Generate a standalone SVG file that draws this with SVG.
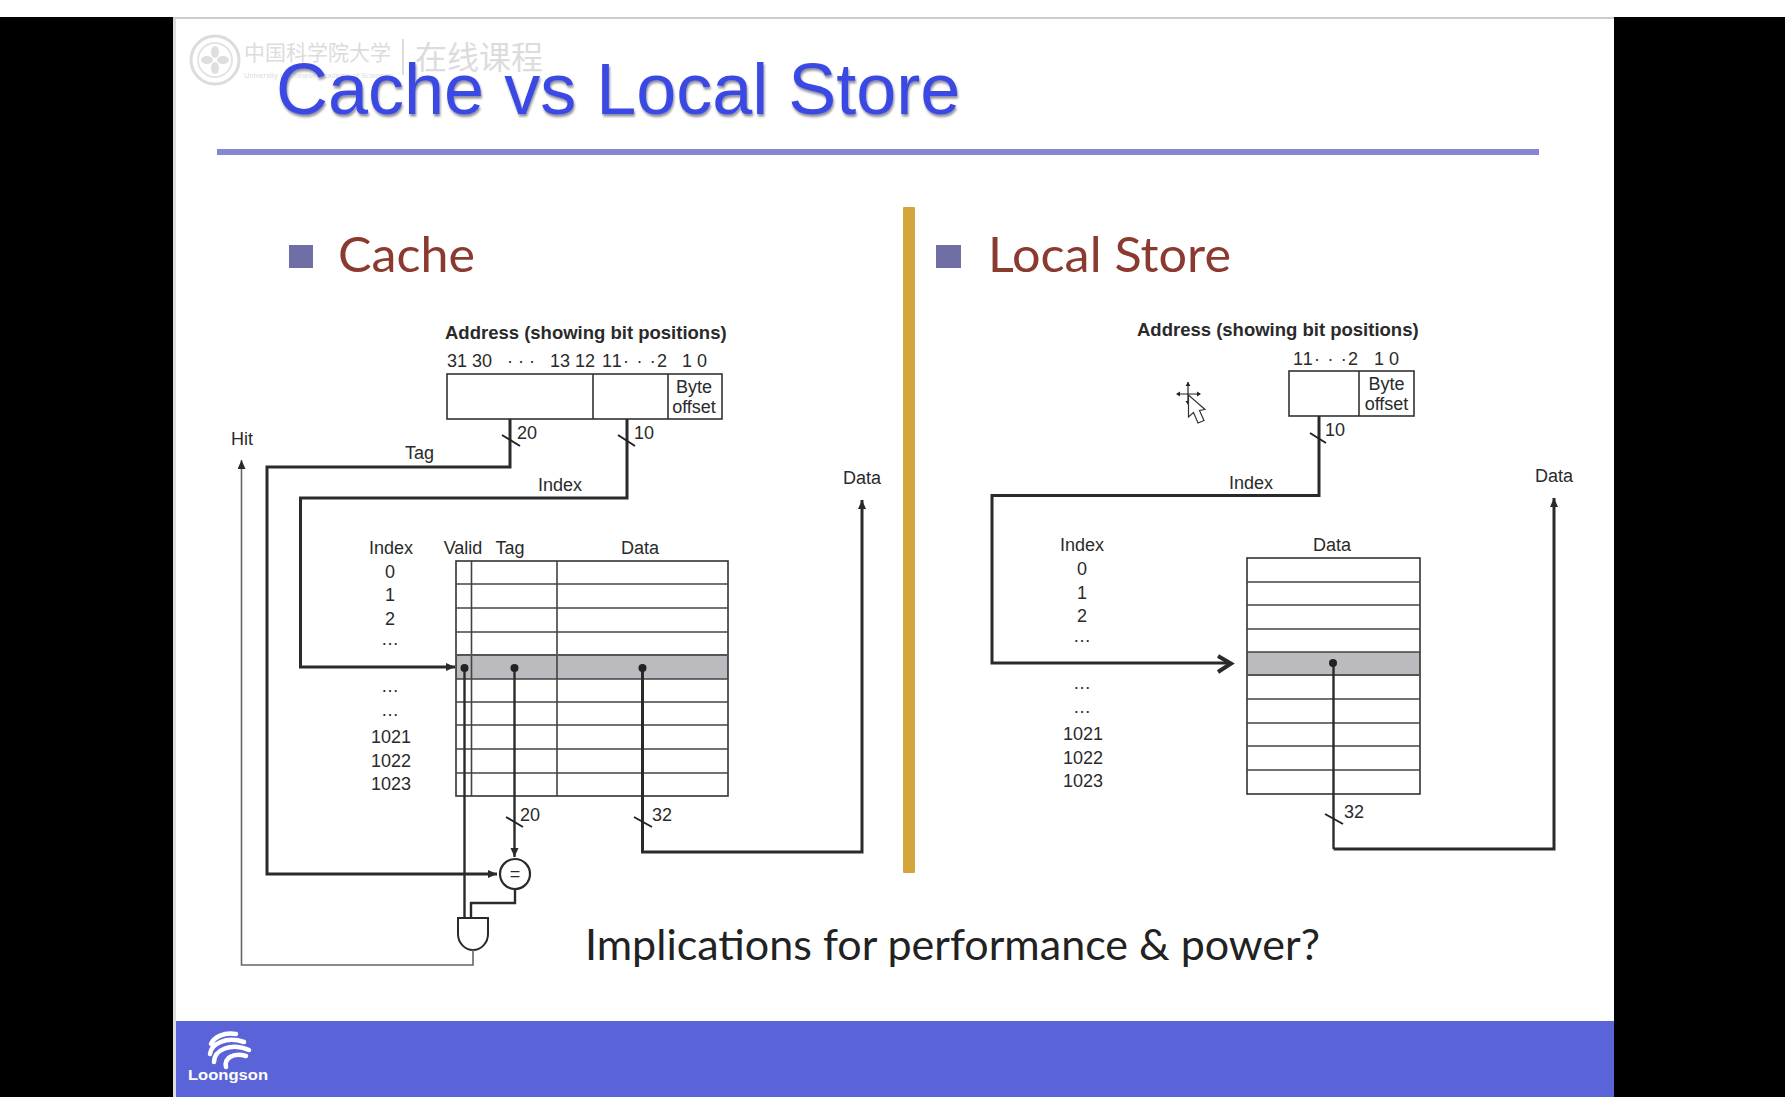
<svg xmlns="http://www.w3.org/2000/svg" width="1785" height="1116" viewBox="0 0 1785 1116">
<style>
text{font-family:"Liberation Sans",Arial,sans-serif;fill:#2a2a2a}
.t{font-size:18px}
.m{text-anchor:middle}
.b{font-size:18.5px;font-weight:bold}
.h{font-family:"Lato","Open Sans",sans-serif;fill:#8a3a2f;font-size:48px}
.g{fill:none;stroke:#333;stroke-width:1.6}
.r{stroke:#444;stroke-width:1.6}
.rt{stroke:#555;stroke-width:2}
.w{fill:none;stroke:#2a2a2a;stroke-width:3}
.w2{fill:none;stroke:#2a2a2a;stroke-width:2.4}
.thin{fill:none;stroke:#666;stroke-width:1.6}
.tick{stroke:#222;stroke-width:2}
.wm{font-family:"Noto Sans CJK SC",sans-serif;fill:#dcdcdc}
</style>
<defs>
<marker id="ah" markerUnits="userSpaceOnUse" markerWidth="10" markerHeight="10" refX="9" refY="4" orient="auto"><path d="M0 0L9 4L0 8Z" fill="#2a2a2a"/></marker>
<filter id="sh" x="-5%" y="-10%" width="110%" height="125%"><feDropShadow dx="1" dy="2.5" stdDeviation="1" flood-color="#8f8f9f"/></filter>
</defs>
<rect width="1785" height="1116" fill="#fff"/>
<g id="frame">
<rect x="0" y="17" width="173" height="1080" fill="#000"/>
<rect x="1614" y="17" width="171" height="1080" fill="#000"/>
<rect x="173" y="17" width="3" height="1080" fill="#ddd"/>
<rect x="173" y="17" width="1441" height="2" fill="#ccc"/>
<rect x="176" y="1021" width="1438" height="76" fill="#5b63d9"/>
</g>
<g id="logo">
<g fill="none" stroke="#fff" stroke-width="4.500" stroke-linecap="round">
<path d="M211 1044C214 1037 224 1032 236 1034"/>
<path d="M210 1054C211 1044 226 1036 244 1042"/>
<path d="M214 1062C214 1050 231 1042 249 1050"/>
<path d="M226 1067C224 1059 232 1052 246 1056"/>
</g>
<text x="188" y="1080" font-size="15.500" font-weight="bold" style="fill:#fff" textLength="80" lengthAdjust="spacingAndGlyphs">Loongson</text>
</g>
<g id="watermark">
<circle cx="215" cy="60" r="24" fill="none" stroke="#dcdcdc" stroke-width="3"/>
<circle cx="215" cy="60" r="17" fill="none" stroke="#e4e4e4" stroke-width="2"/>
<g fill="#dedede"><ellipse cx="215" cy="52" rx="4" ry="6"/><ellipse cx="215" cy="68" rx="4" ry="6"/><ellipse cx="207" cy="60" rx="6" ry="4"/><ellipse cx="223" cy="60" rx="6" ry="4"/></g>
<text class="wm" x="244" y="60" font-size="21">中国科学院大学</text>
<text x="244" y="78" font-size="7.500" style="fill:#dcdcdc" textLength="148">University of Chinese Academy of Sciences</text>
<rect x="402" y="39" width="2" height="36" fill="#dcdcdc"/>
<text class="wm" x="415" y="69" font-size="32">在线课程</text>
</g>
<text id="title" x="276" y="114" font-size="72" filter="url(#sh)" style="fill:#3a49e4">Cache vs Local Store</text>
<rect id="title-rule" x="217" y="149" width="1322" height="6" fill="#8585d2"/>
<rect id="divider" x="903" y="207" width="12" height="666" rx="1" fill="#d4a53a"/>
<g id="heading-cache">
<rect x="289" y="245" width="24" height="23" fill="#6f6fa5"/>
<text class="h" x="338" y="272" textLength="137" lengthAdjust="spacingAndGlyphs">Cache</text>
</g>
<g id="heading-local">
<rect x="936" y="245" width="25" height="23" fill="#6f6fa5"/>
<text class="h" x="988" y="272" textLength="243" lengthAdjust="spacingAndGlyphs">Local Store</text>
</g>
<text id="question" x="585" y="960" font-size="42" textLength="735" lengthAdjust="spacingAndGlyphs" style="font-family:'Lato','Open Sans',sans-serif;fill:#222">Implications for performance &amp; power?</text>

<g id="cache-address">
<text class="b" x="445" y="339">Address (showing bit positions)</text>
<text class="t" x="447" y="367">31 30</text><text class="t" x="507" y="367">· · ·</text><text class="t" x="550" y="367">13 12</text><text class="t" x="602" y="367" textLength="65">11· · ·2</text><text class="t" x="682" y="367">1 0</text>
<rect class="g" x="447" y="374" width="275" height="45"/>
<path class="g" d="M593 374V419M668 374V419"/>
<text class="t m" x="694" y="393">Byte</text><text class="t m" x="694" y="413">offset</text>
</g>
<g id="cache-table">
<rect x="456" y="655" width="272" height="24" fill="#bbbbbf"/>
<rect class="g" x="456" y="561" width="272" height="235"/>
<path class="r" d="M456 584H728M456 608H728M456 632H728M456 679H728M456 702H728M456 725H728M456 749H728M456 773H728M471.500 561V796M557 561V796"/>
<path class="rt" d="M456 655H728"/>
<g id="cache-headers"><text class="t m" x="391" y="554">Index</text><text class="t m" x="463" y="554">Valid</text><text class="t m" x="510" y="554">Tag</text><text class="t m" x="640" y="554">Data</text></g>
<g id="cache-index">
<text class="t m" x="390" y="578">0</text><text class="t m" x="390" y="601">1</text><text class="t m" x="390" y="625">2</text><text class="t m" x="390" y="645">…</text><text class="t m" x="390" y="692">…</text><text class="t m" x="390" y="716">…</text><text class="t m" x="391" y="743">1021</text><text class="t m" x="391" y="767">1022</text><text class="t m" x="391" y="790">1023</text>
</g>
</g>
<g id="local-address">
<text class="b" x="1137" y="336">Address (showing bit positions)</text>
<text class="t" x="1293" y="365" textLength="65">11· · ·2</text><text class="t" x="1374" y="365">1 0</text>
<rect class="g" x="1289" y="371" width="125" height="45"/>
<path class="g" d="M1359 371V416"/>
<text class="t m" x="1386.500" y="390">Byte</text><text class="t m" x="1386.500" y="410">offset</text>
</g>
<g id="local-table">
<rect x="1247" y="652" width="173" height="23" fill="#bbbbbf"/>
<rect class="g" x="1247" y="558" width="173" height="236"/>
<path class="r" d="M1247 582H1420M1247 605H1420M1247 629H1420M1247 652H1420M1247 699H1420M1247 723H1420M1247 746H1420M1247 770H1420"/>
<path class="rt" d="M1247 675H1420"/>
<text class="t m" x="1332" y="551">Data</text>
<g id="local-index">
<text class="t m" x="1082" y="551">Index</text><text class="t m" x="1082" y="575">0</text><text class="t m" x="1082" y="599">1</text><text class="t m" x="1082" y="622">2</text><text class="t m" x="1082" y="642">…</text><text class="t m" x="1082" y="689">…</text><text class="t m" x="1082" y="713">…</text><text class="t m" x="1083" y="740">1021</text><text class="t m" x="1083" y="764">1022</text><text class="t m" x="1083" y="787">1023</text>
</g>
</g>
<g id="cache-compare">
<ellipse cx="515" cy="874" rx="15" ry="15" fill="#fff" stroke="#2a2a2a" stroke-width="2.200"/>
<text class="t m" x="515" y="880">=</text>
</g>
<g id="cache-and"><path d="M458 918H488V934C488 943 481 950 473 950C465 950 458 943 458 934Z" fill="#fff" stroke="#2a2a2a" stroke-width="2"/></g>
<g id="connectors">
<path class="w" d="M510 419V467H267V874H497" marker-end="url(#ah)"/>
<path class="w" d="M627 419V498H300.500V667H455" marker-end="url(#ah)"/>
<path class="w2" d="M464.500 668V918"/>
<path class="w2" d="M514.500 668V857" marker-end="url(#ah)"/>
<path class="w" d="M642.500 668V852H862V500" marker-end="url(#ah)"/>
<path class="w2" d="M515 889V903H471V918"/>
<path class="thin" d="M473 950V965H241.500V460" marker-end="url(#ah)"/>
<g fill="#222"><circle cx="464.500" cy="668" r="4"/><circle cx="514.500" cy="668" r="4"/><circle cx="642.500" cy="668" r="4"/></g>
<path class="tick" d="M502 435L520 446M618 435L635 446M506 817L523 827M634 817L652 827"/>
<path class="w" d="M1319 416V495.500H992V663H1230"/>
<path d="M1218 656L1231 663.500L1218 672" fill="none" stroke="#2a2a2a" stroke-width="4"/>
<path class="w2" d="M1333.500 663V849"/>
<path class="w" d="M1333.500 849H1554V498" marker-end="url(#ah)"/>
<circle cx="1333" cy="663" r="4" fill="#222"/>
<path class="tick" d="M1310 433L1326 443M1325 814L1343 824"/>
</g>
<g id="cache-labels">
<text class="t" x="517" y="439">20</text><text class="t" x="634" y="439">10</text><text class="t" x="405" y="459">Tag</text><text class="t" x="538" y="491">Index</text><text class="t" x="231" y="445">Hit</text><text class="t" x="843" y="484">Data</text><text class="t" x="520" y="821">20</text><text class="t" x="652" y="821">32</text>
</g>
<g id="local-labels">
<text class="t" x="1325" y="436">10</text><text class="t" x="1229" y="489">Index</text><text class="t" x="1535" y="482">Data</text><text class="t" x="1344" y="818">32</text>
</g>
<g id="cursor">
<path d="M1188 382V403M1177 394H1200" stroke="#222" stroke-width="1.200" fill="none"/>
<path d="M1188 382l-2.500 4h5zM1188 405l-2.500 -4h5zM1176 394l4 -2.500v5zM1201 394l-4 -2.500v5z" fill="#222"/>
<path d="M1188.500 395V417L1193.500 412.500L1198 423L1204 420.500L1199.500 410.500L1205 409.500Z" fill="#fff" stroke="#333" stroke-width="1.200"/>
</g>
</svg>
